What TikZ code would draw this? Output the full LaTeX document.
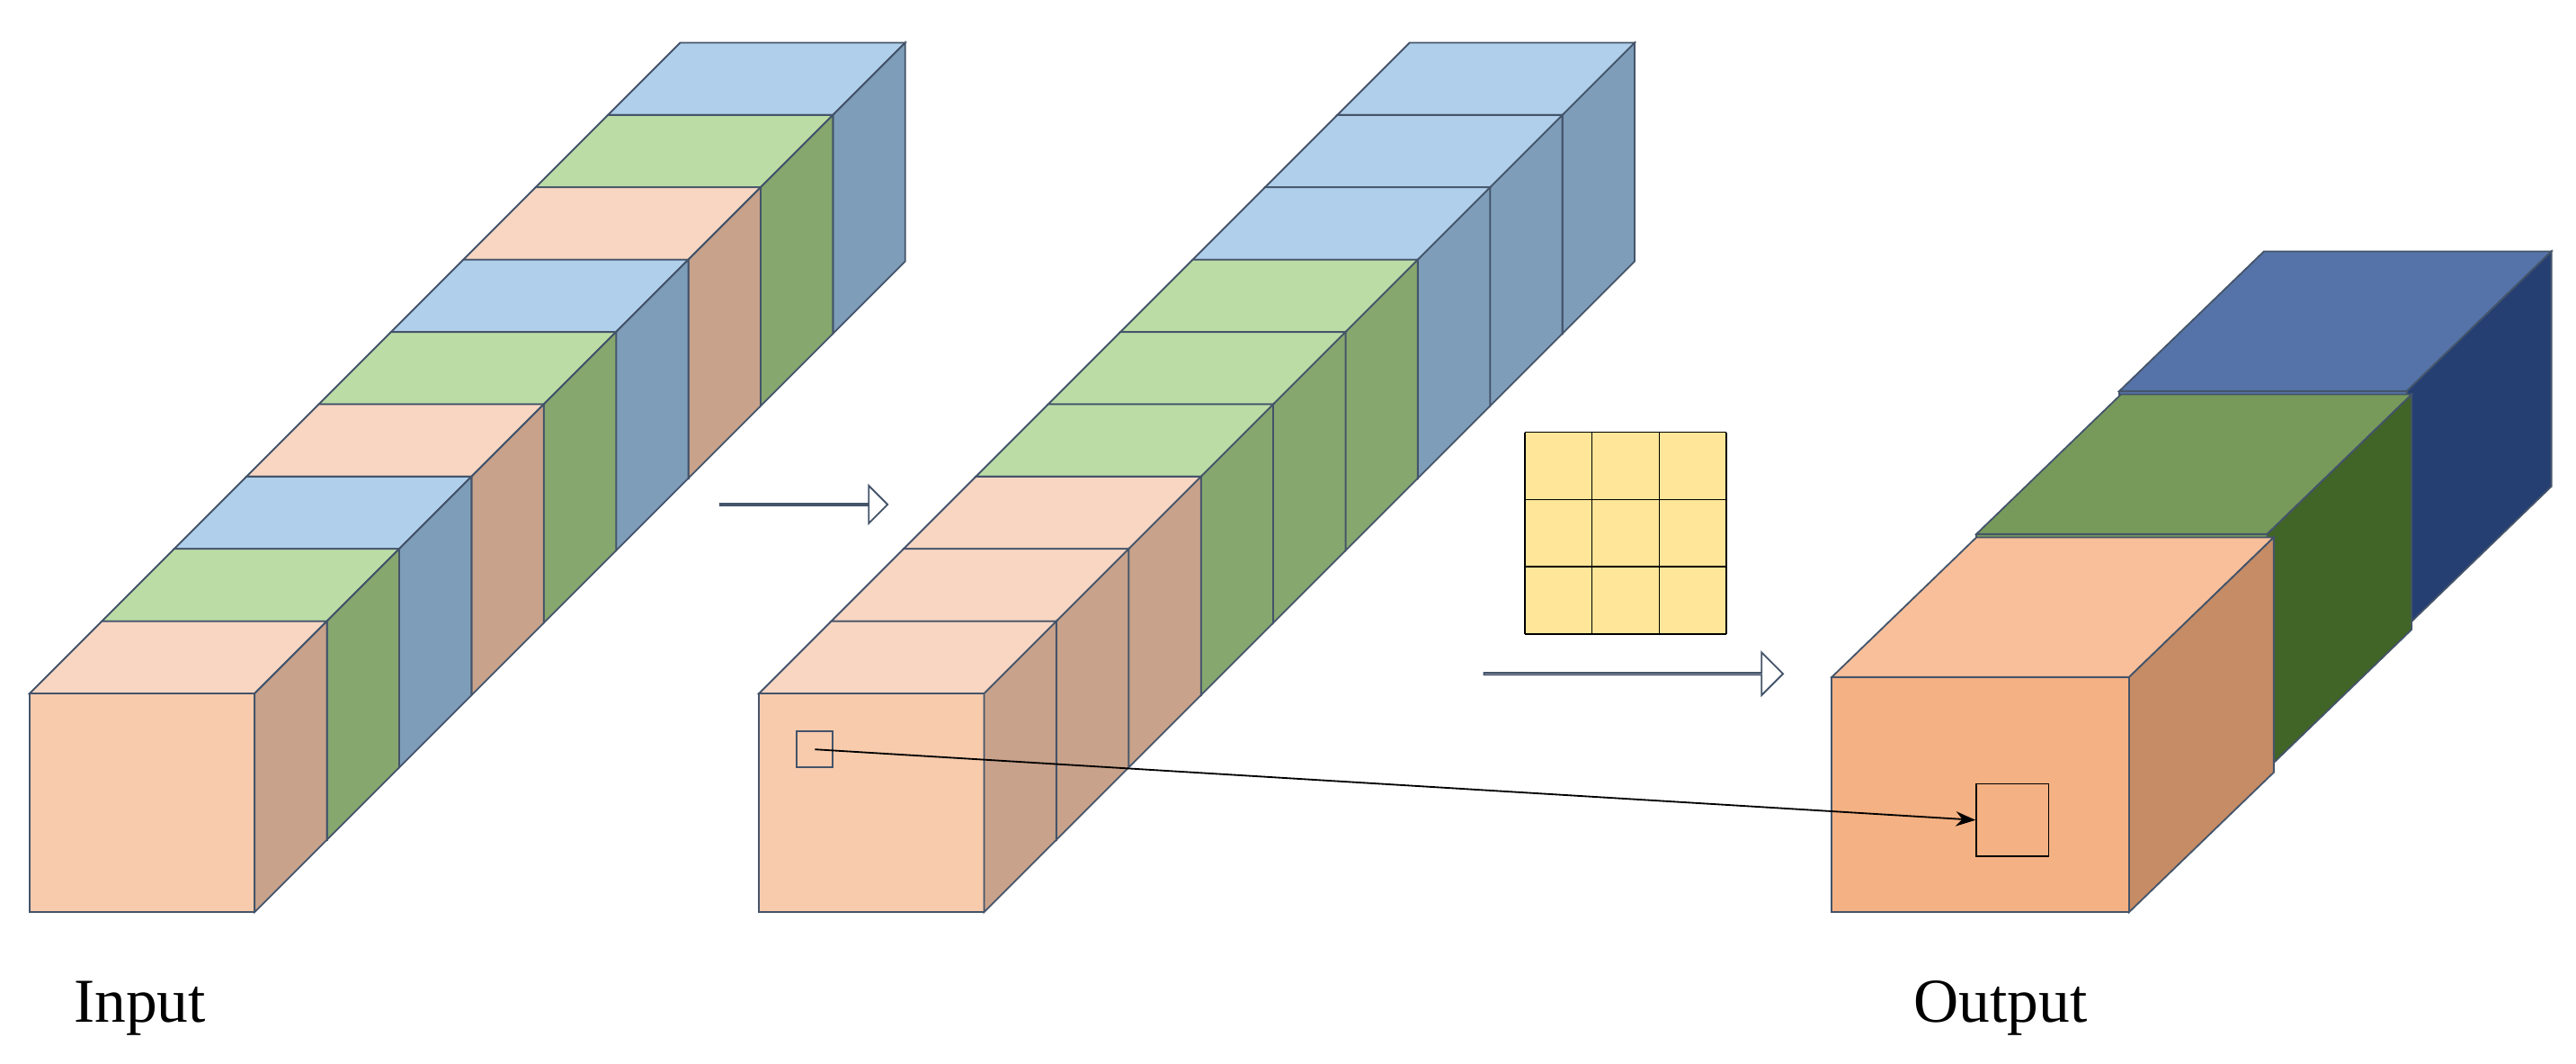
\documentclass[tikz,border=0pt]{standalone}
\usepackage{fontspec}
\setmainfont{Liberation Serif}
\usetikzlibrary{arrows.meta,shapes.arrows}
\definecolor{pF}{HTML}{F8CBAD}\definecolor{pT}{HTML}{F8D6C2}\definecolor{pS}{HTML}{C8A28A}
\definecolor{gT}{HTML}{BBDDA5}\definecolor{gS}{HTML}{86A76E}
\definecolor{bT}{HTML}{B0CFEA}\definecolor{bS}{HTML}{7E9DB9}
\definecolor{oF}{HTML}{F4B183}\definecolor{oT}{HTML}{F8BF9A}\definecolor{oS}{HTML}{C68C65}
\definecolor{ogT}{HTML}{779A5B}\definecolor{ogS}{HTML}{416427}
\definecolor{obT}{HTML}{5573A8}\definecolor{obS}{HTML}{253F73}
\definecolor{edge}{HTML}{44546A}
\definecolor{yel}{HTML}{FFE699}
\newcommand\mycube[9]{% x y w h dx dy front top side
  \fill[#7,draw=edge,line width=0.5pt] (#1,#2) rectangle ++(#3,#4);
  \fill[#8,draw=edge,line width=0.5pt] (#1,#2) -- ++(#5,#6) -- ++(#3,0) -- ++(-#5,-#6) -- cycle;
  \fill[#9,draw=edge,line width=0.5pt] (#1+#3,#2) -- ++(#5,#6) -- ++(0,#4) -- ++(-#5,-#6) -- cycle;
}
\begin{document}
\begin{tikzpicture}[x=0.5pt,y=-0.5pt,
  hollow/.style={single arrow,draw=edge,fill=white,line width=0.5pt,single arrow head extend=5pt,inner sep=0pt},
  lbl/.style={font=\fontsize{19}{22}\selectfont,anchor=base west}]
\useasboundingbox (0,0) rectangle (1568,647.4);
% Input stack
\foreach \i/\t/\s in {8/bT/bS,7/gT/gS,6/pT/pS,5/bT/bS,4/gT/gS,3/pT/pS,2/bT/bS,1/gT/gS,0/pT/pS}{
  \mycube{18+44*\i}{422-44*\i}{137}{133}{44}{-44}{pF}{\t}{\s}
}
% Middle stack
\foreach \i/\t/\s in {8/bT/bS,7/bT/bS,6/bT/bS,5/gT/gS,4/gT/gS,3/gT/gS,2/pT/pS,1/pT/pS,0/pT/pS}{
  \mycube{462+44*\i}{422-44*\i}{137}{133}{44}{-44}{pF}{\t}{\s}
}
\node[draw=edge,line width=0.5pt,minimum size=11pt,inner sep=0pt] (src) at (496,456) {};
% Output stack
\mycube{1290}{238}{175}{143}{88}{-85}{obT}{obT}{obS}
\mycube{1203}{325}{177}{143}{88}{-85}{ogT}{ogT}{ogS}
\mycube{1115}{412}{181}{143}{88}{-85}{oF}{oT}{oS}
\node[draw=black,line width=0.5pt,minimum size=22pt,inner sep=0pt] (dst) at (1225,499) {};
\draw[-{Stealth[length=6pt]},line width=0.5pt] (src.center) -- (dst.west);
% hollow arrows
\node[hollow,minimum height=51pt,minimum width=11.5pt] (a1) at (489,307) {};
\node[hollow,minimum height=91pt,minimum width=13pt] (a2) at (994,410) {};
% kernel
\fill[yel] (928,263) rectangle (1051,386);
\foreach \k in {0,1,2,3}{
  \draw[black,line width=0.5pt] (928+41*\k,263) -- (928+41*\k,386);
  \draw[black,line width=0.5pt] (928,263+41*\k) -- (1051,263+41*\k);
}
\node (kernel) at (989.5,324.5) {};
% labels
\node[lbl] (in) at (38,622) {Input};
\node[lbl] (out) at (1158,622) {Output};
\end{tikzpicture}
\end{document}
